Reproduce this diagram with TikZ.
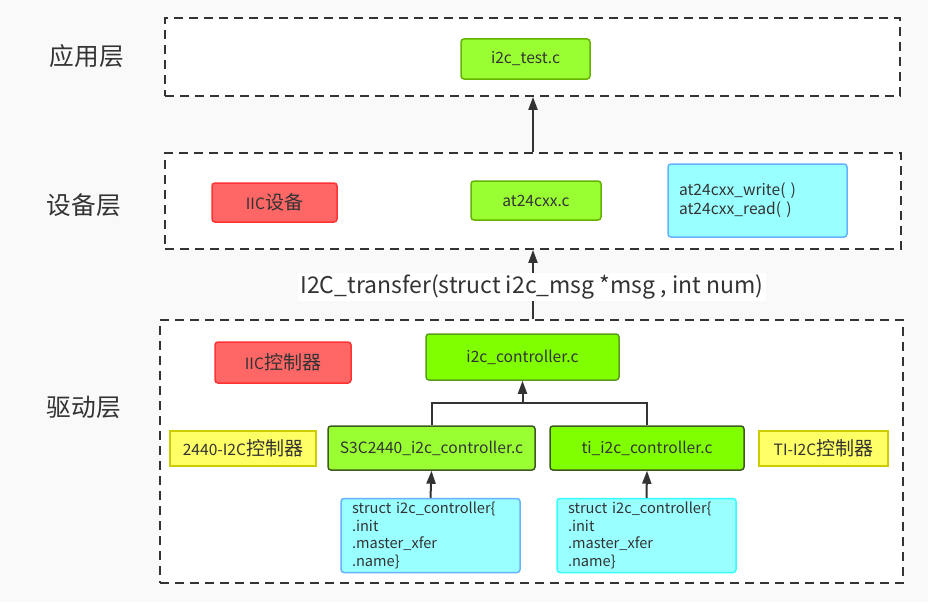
\documentclass[tikz,border=0pt]{standalone}
\usepackage{fontspec}
\setmainfont{Noto Sans CJK SC}
\newfontfamily\cjkbig[Scale=1.22]{Noto Sans CJK SC}
\usetikzlibrary{arrows.meta}
\definecolor{bgc}{HTML}{F9F9F9}
\definecolor{ink}{HTML}{333333}
\definecolor{redf}{HTML}{FF6666}
\definecolor{redd}{HTML}{FF3333}
\definecolor{grnf}{HTML}{99FF33}
\definecolor{grnd}{HTML}{66B200}
\definecolor{limf}{HTML}{80FF00}
\definecolor{limd}{HTML}{5A9E1A}
\definecolor{darkd}{HTML}{3D5A1E}
\definecolor{cyaf}{HTML}{99FFFF}
\definecolor{blud}{HTML}{66B2FF}
\definecolor{cyad}{HTML}{33FFFF}
\definecolor{yelf}{HTML}{FFFF66}
\definecolor{yeld}{HTML}{CCCC00}
\begin{document}
\begin{tikzpicture}[x=1pt,y=-1pt,
  layer/.style={draw=ink, line width=1.8pt, dash pattern=on 9pt off 6pt, fill=white, inner sep=0pt},
  box/.style={rounded corners=3pt, line width=1.5pt, inner sep=0pt, text=ink, font=\fontsize{15.6}{19}\selectfont},
  redbox/.style={box, fill=redf, draw=redd},
  grnbox/.style={box, fill=grnf, draw=grnd},
  limbox/.style={box, fill=limf, draw=limd},
  yelbox/.style={box, rounded corners=0pt, fill=yelf, draw=yeld, line width=2pt},
  cyabox/.style={box, fill=cyaf, draw=blud, align=left, inner xsep=11pt},
  stbox/.style={cyabox, font=\fontsize{14.6}{17.4}\selectfont},
  lab/.style={text=ink, font=\fontsize{24.7}{28}\selectfont},
  arr/.style={draw=ink, line width=2pt, -{Triangle[length=13pt,width=9pt]}},
  conn/.style={draw=ink, line width=2pt}
]
\useasboundingbox (0,0) rectangle (944,602);
\fill[bgc] (0,0) rectangle (928,602);
\fill[white] (928,0) rectangle (944,602);

% layers
\node[layer, minimum width=735pt, minimum height=78pt] (app) at (532.5,57) {};
\node[layer, minimum width=736pt, minimum height=96pt] (dev) at (533,201) {};
\node[layer, minimum width=743pt, minimum height=263pt] (drv) at (531.5,451.5) {};

\node[lab] (l1) at (87,56) {应用层};
\node[lab] (l2) at (84,205) {设备层};
\node[lab] (l3) at (84,407) {驱动层};

% application layer
\node[grnbox, minimum width=129pt, minimum height=40pt] (test) at (525.5,59) {i2c\_test.c};

% device layer
\node[redbox, minimum width=125pt, minimum height=39pt] (iicdev) at (274.5,202.5) {IIC{\cjkbig 设备}};
\node[grnbox, minimum width=130pt, minimum height=39pt] (at24) at (536,200.5) {at24cxx.c};
\node[cyabox, minimum width=179pt, minimum height=73pt, text width=157pt] (at24f) at (757.5,200.5) {at24cxx\_write( )\\at24cxx\_read( )};

% driver layer
\node[redbox, minimum width=136pt, minimum height=41pt] (iicctl) at (283,362.5) {IIC{\cjkbig 控制器}};
\node[limbox, minimum width=193pt, minimum height=46pt] (ctl) at (522.5,357) {i2c\_controller.c};
\node[grnbox, draw=darkd, minimum width=207pt, minimum height=44pt] (s3c) at (431.5,448) {S3C2440\_i2c\_controller.c};
\node[limbox, draw=darkd, minimum width=194pt, minimum height=44pt] (ti) at (647,448) {ti\_i2c\_controller.c};
\node[yelbox, minimum width=146pt, minimum height=35pt] (y1) at (243,448.5) {2440-I2C{\cjkbig 控制器}};
\node[yelbox, minimum width=129pt, minimum height=35pt] (y2) at (823.5,448.5) {TI-I2C{\cjkbig 控制器}};
\node[stbox, minimum width=179pt, minimum height=74pt, text width=157pt] (st1) at (430.5,535.5) {struct i2c\_controller\{\\.init\\.master\_xfer\\.name\}};
\node[stbox, draw=cyad, minimum width=179pt, minimum height=74pt, text width=157pt] (st2) at (646.5,535.5) {struct i2c\_controller\{\\.init\\.master\_xfer\\.name\}};

% connectors
\draw[arr] (dev.north -| 533,0) -- (app.south -| 533,0);
\draw[arr] (drv.north -| 533,0) -- (dev.south -| 533,0);
\node[fill=white, text=ink, inner sep=2pt, font=\fontsize{23}{27}\selectfont] (xfer) at (532,287) {I2C\_transfer(struct i2c\_msg *msg , int num)};

\coordinate (j) at (522.5,402.5);
\draw[conn] (s3c.north) |- (j) -| (ti.north);
\draw[arr] (j) -- (ctl.south);
\draw[arr] (st1.north) -- (s3c.south);
\draw[arr] (st2.north) -- (ti.south);
\end{tikzpicture}
\end{document}
